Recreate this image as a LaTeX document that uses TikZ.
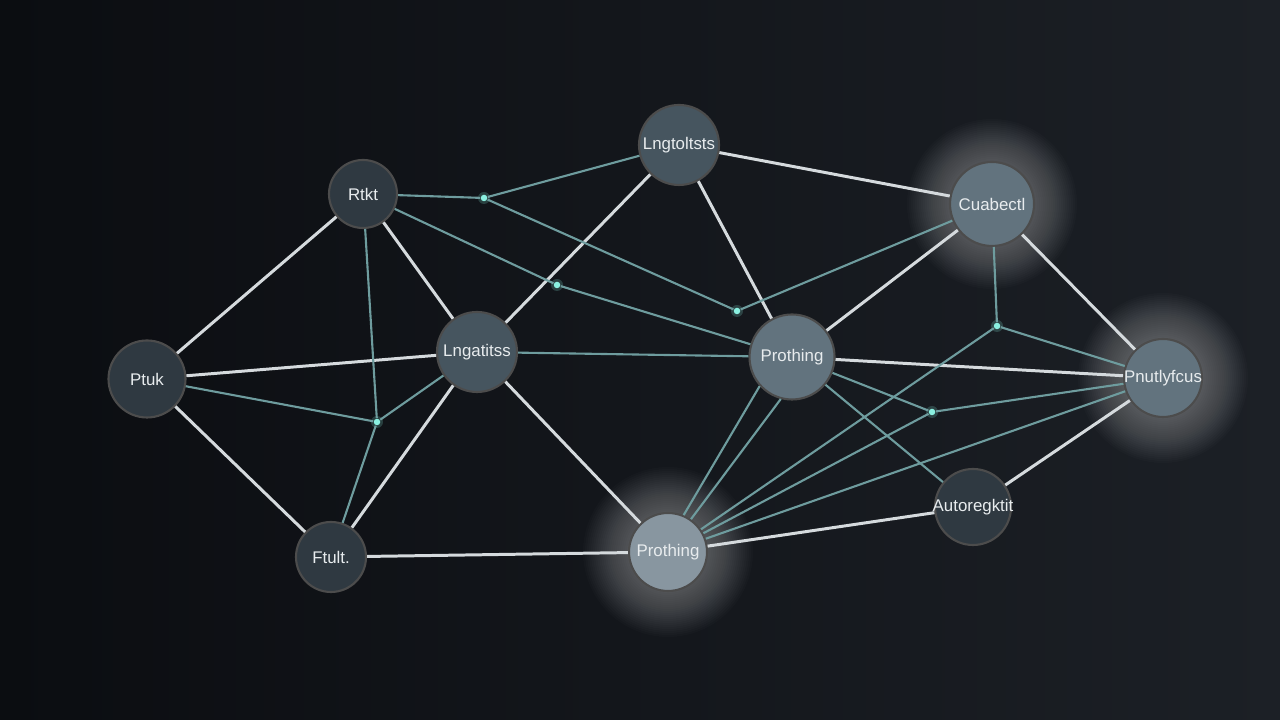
\documentclass[tikz,border=0pt]{standalone}
\usepackage{fontspec}
\setmainfont{Liberation Sans}
\usepackage{tikz}
\usetikzlibrary{backgrounds}
\definecolor{bgdark}{HTML}{0B0D11}
\definecolor{bgright}{HTML}{1C2026}
\definecolor{linkwhite}{HTML}{D5DADD}
\definecolor{linkteal}{HTML}{6E9C9E}
\definecolor{dotcyan}{HTML}{8AF0E0}
\definecolor{nodedark}{HTML}{2F3941}
\definecolor{nodemid}{HTML}{46555F}
\definecolor{nodelight}{HTML}{62737E}
\definecolor{nodepale}{HTML}{8896A0}
\definecolor{labelwhite}{HTML}{E8ECEE}

\tikzset{
  hub/.style={circle, draw=black!70, line width=0.6pt, inner sep=0pt, minimum size=#1},
  hublabel/.style={labelwhite, font=\fontsize{4.8}{4.8}\selectfont},
  joint/.style={circle, fill=dotcyan, inner sep=0pt, minimum size=0.065cm},
  strong/.style={linkwhite, line width=0.85pt},
  link/.style={linkteal, line width=0.6pt},
}

\begin{document}
\begin{tikzpicture}
  \useasboundingbox (0,0) rectangle (12.8,7.2);

  % Hubs
  \node[hub=0.77cm, fill=nodedark, label={[hublabel]center:Ptuk}] (ptuk) at (1.47, 3.41) {};
  \node[hub=0.68cm, fill=nodedark, label={[hublabel]center:Rtkt}] (rtkt) at (3.63, 5.26) {};
  \node[hub=0.80cm, fill=nodemid, label={[hublabel]center:Lngtoltsts}] (lngtop) at (6.79, 5.75) {};
  \node[hub=0.84cm, fill=nodelight, label={[hublabel]center:Cuabectl}] (cuabe) at (9.92, 5.16) {};
  \node[hub=0.80cm, fill=nodemid, label={[hublabel]center:Lngatitss}] (lngmid) at (4.77, 3.68) {};
  \node[hub=0.85cm, fill=nodelight, label={[hublabel]center:Prothing}] (protop) at (7.92, 3.63) {};
  \node[hub=0.78cm, fill=nodelight, label={[hublabel]center:Pnutlyfcus}] (pnut) at (11.63, 3.42) {};
  \node[hub=0.70cm, fill=nodedark, label={[hublabel]center:Ftult.}] (ftult) at (3.31, 1.63) {};
  \node[hub=0.78cm, fill=nodepale, label={[hublabel]center:Prothing}] (probot) at (6.68, 1.68) {};
  \node[hub=0.76cm, fill=nodedark, label={[hublabel]center:Autoregktit}] (autor) at (9.73, 2.13) {};

  % Junction dots
  \node[joint] (j1) at (4.84, 5.22) {};
  \node[joint] (j2) at (3.77, 2.98) {};
  \node[joint] (j3) at (5.57, 4.35) {};
  \node[joint] (j4) at (7.37, 4.09) {};
  \node[joint] (j5) at (9.97, 3.94) {};
  \node[joint] (j6) at (9.32, 3.08) {};

  % Background and glow
  \begin{scope}[on background layer]
    \shade[left color=bgdark, right color=bgright] (0,0) rectangle (12.8,7.2);
    \foreach \n in {cuabe, pnut, probot}
      \foreach \r in {0.41,0.43,...,0.85}
        \fill[white, opacity=0.014] (\n) circle (\r);
    \foreach \n in {j1, j2, j3, j4, j5, j6}
      \fill[dotcyan, opacity=0.2] (\n) circle (0.06);
  \end{scope}

  % White links
  \draw[strong] (ptuk) -- (rtkt);
  \draw[strong] (ptuk) -- (lngmid);
  \draw[strong] (ptuk) -- (ftult);
  \draw[strong] (rtkt) -- (lngmid);
  \draw[strong] (lngtop) -- (lngmid);
  \draw[strong] (lngtop) -- (protop);
  \draw[strong] (lngtop) -- (cuabe);
  \draw[strong] (lngmid) -- (ftult);
  \draw[strong] (lngmid) -- (probot);
  \draw[strong] (cuabe) -- (protop);
  \draw[strong] (cuabe) -- (pnut);
  \draw[strong] (protop) -- (pnut);
  \draw[strong] (autor) -- (pnut);
  \draw[strong] (ftult) -- (probot);
  \draw[strong] (probot) -- (autor);

  % Teal links
  \draw[link] (ptuk) -- (j2);
  \draw[link] (rtkt) -- (j2) -- (ftult);
  \draw[link] (j2) -- (lngmid);
  \draw[link] (rtkt) -- (j1) -- (lngtop);
  \draw[link] (j1) -- (j4) -- (cuabe);
  \draw[link] (rtkt) -- (j3) -- (protop);
  \draw[link] (lngmid) -- (protop);
  \draw[link] (cuabe) -- (j5) -- (pnut);
  \draw[link] (probot) -- (j5);
  \draw[link] (probot) -- (j6) -- (pnut);
  \draw[link] (protop) -- (j6);
  \draw[link] (probot) -- (pnut);
  \draw[link] (probot.67) -- (protop.222);
  \draw[link] (probot.55) -- (protop.255);
  \draw[link] (protop) -- (autor);
\end{tikzpicture}
\end{document}
